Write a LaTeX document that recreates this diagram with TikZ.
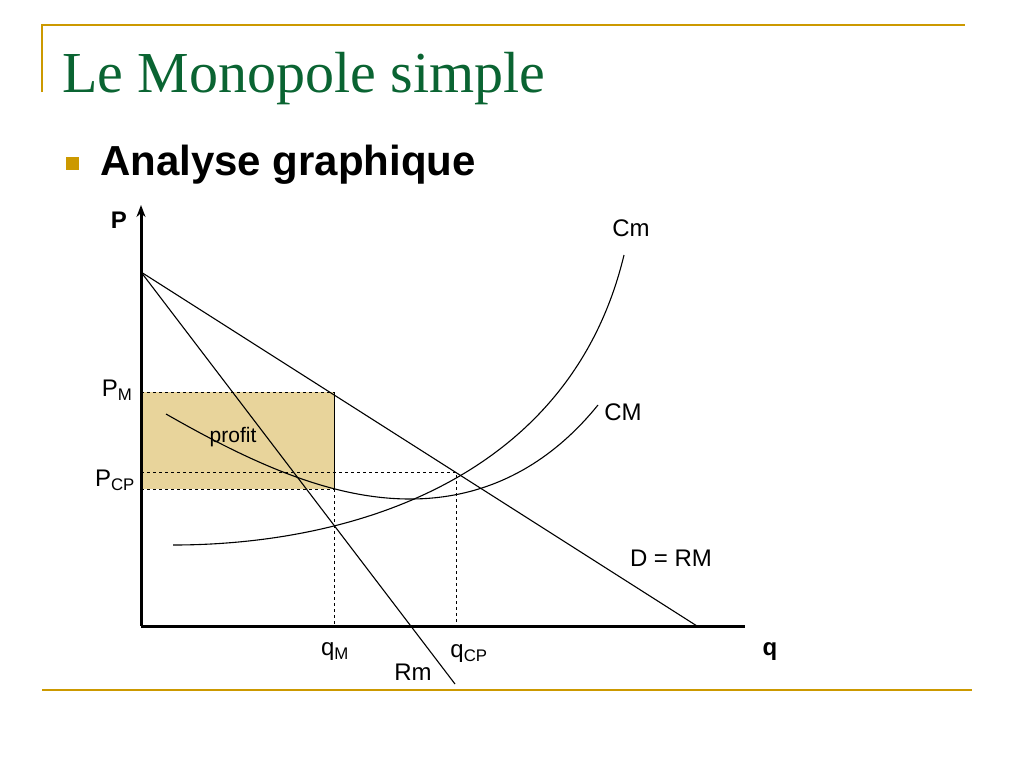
\documentclass[tikz,border=0pt]{standalone}
\usepackage{fontspec}
\usetikzlibrary{arrows.meta}
\setmainfont{Liberation Sans}
\newfontfamily\titlefont{Liberation Serif}
\definecolor{gold}{RGB}{204,153,0}
\definecolor{tan}{RGB}{232,212,155}
\definecolor{ttl}{RGB}{10,100,50}
\begin{document}
\begin{tikzpicture}[x=1pt,y=-1pt,
  lbl/.style={inner sep=0pt,font=\fontsize{24}{24}\selectfont},
  crv/.style={line width=1.1pt},
  dsh/.style={dashed,line width=1pt}]
\useasboundingbox (0,0) rectangle (1024,768);
\draw[gold,line width=2pt] (42,92) -- (42,25) -- (965,25);
\draw[gold,line width=2pt] (42,690) -- (972,690);
\node[anchor=base west,inner sep=0pt,text=ttl,font=\titlefont\fontsize{58}{58}\selectfont] (title) at (62,92) {Le Monopole simple};
\fill[gold] (66,157) rectangle (79,170);
\node[anchor=base west,inner sep=0pt,font=\bfseries\fontsize{42}{42}\selectfont] (sub) at (100,175) {Analyse graphique};
% profit rectangle
\fill[tan] (141,392) rectangle (334,489);
\draw[dsh] (141,392) -- (334,392);
\draw[dsh] (141,489) -- (334,489);
\draw[line width=1pt] (334,392) -- (334,489);
\draw[dsh] (141,472) -- (456,472) -- (456,626);
\draw[dsh] (334,489) -- (334,626);
% axes
\coordinate (O) at (141,626);
\coordinate (Ptop) at (141,205);
\coordinate (Qend) at (745,626);
\draw[line width=3pt,-{Stealth[length=12pt,width=9pt]}] (O) -- (Ptop);
\draw[line width=3pt] (O) -- (Qend);
% demand and Rm
\coordinate (A) at (141,272);
\coordinate (Dend) at (697,626);
\coordinate (Rend) at (455,684);
\draw[crv] (A) -- (Dend);
\draw[crv] (A) -- (Rend);
% CM
\draw[crv] (166,414) .. controls (250,462) and (330,499) .. (410,499) .. controls (500,499) and (560,452) .. (598,405);
% Cm
\draw[crv] (173,545) .. controls (350,545) and (570,480) .. (624,255);
% labels
\node[lbl,font=\bfseries\fontsize{24}{24}\selectfont] (P) at (119,220) {P};
\node[lbl,font=\bfseries\fontsize{24}{24}\selectfont] (q) at (770,652) {q};
\node[lbl] (Cm) at (631,228) {Cm};
\node[lbl] (CM) at (623,412) {CM};
\node[lbl] (D) at (671,558) {D = RM};
\node[lbl] (Rm) at (413,672) {Rm};
\node[lbl] (qM) at (335,652) {q$_{\mathrm{M}}$};
\node[lbl] (qCP) at (469,654) {q$_{\mathrm{CP}}$};
\node[lbl] (PM) at (117,390) {P$_{\mathrm{M}}$};
\node[lbl] (PCP) at (115,480) {P$_{\mathrm{CP}}$};
\node[lbl,font=\fontsize{21}{21}\selectfont] (profit) at (233,437) {profit};
\end{tikzpicture}
\end{document}
